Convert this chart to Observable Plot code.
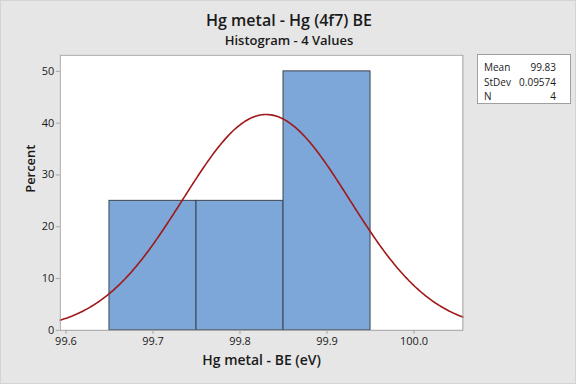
<!DOCTYPE html>
<html><head><meta charset="utf-8">
<script src="https://cdn.jsdelivr.net/npm/d3@7"></script>
<script src="https://cdn.jsdelivr.net/npm/@observablehq/plot@0.6"></script>
<style>
html,body{margin:0;padding:0;background:#e6e6e6;}
#wrap{position:relative;width:576px;height:384px;background:#e6e6e6;box-sizing:border-box;border:1px solid #d4d4d4;overflow:hidden;font-family:"Segoe UI","Open Sans",sans-serif;color:#1a1a1a;}
#wrap svg{position:absolute;left:-1px;top:-1px;}
.t{position:absolute;left:0;width:576px;text-align:center;white-space:nowrap;}
#title{top:8px;font-size:16px;font-weight:600;}
#sub{top:30px;font-size:13px;font-weight:600;}
#legend{position:absolute;left:476px;top:53px;width:94px;height:50px;background:#fff;border:1px solid #a0a0a0;box-sizing:border-box;font-size:10px;}
#legend .row{position:absolute;left:6px;right:14px;display:flex;justify-content:space-between;}
</style></head>
<body><div id="wrap">
<div class="t" id="title">Hg metal - Hg (4f7) BE</div>
<div class="t" id="sub">Histogram - 4 Values</div>
<div id="legend"></div>
</div>
<script>
const binStart = [99.65, 99.75, 99.85];
const binEnd = [99.75, 99.85, 99.95];
const percent = [25, 25, 50];
const xTicks = [99.6, 99.7, 99.8, 99.9, 100.0];
const yTicks = [0, 10, 20, 30, 40, 50];
const statLabels = ["Mean", "StDev", "N"];
const statValues = ["99.83", "0.09574", "4"];
const mean = 99.83, stdev = 0.09574, binWidth = 0.1;
const xDomain = [99.5935, 100.0561];
const yDomain = [0, 53.1];

const bars = binStart.map((s, i) => ({x1: s, x2: binEnd[i], y: percent[i]}));
const curve = d3.range(0, 301).map(i => {
  const x = xDomain[0] + (xDomain[1] - xDomain[0]) * i / 300;
  const z = (x - mean) / stdev;
  return {x, y: 100 * binWidth * Math.exp(-0.5 * z * z) / (stdev * Math.sqrt(2 * Math.PI))};
});

const chart = Plot.plot({
  width: 576, height: 384,
  marginLeft: 60, marginRight: 112, marginTop: 55, marginBottom: 53,
  style: {fontSize: "11px", fontFamily: "'Segoe UI','Open Sans',sans-serif", background: "transparent", color: "#1a1a1a"},
  x: {domain: xDomain, ticks: xTicks, tickFormat: d3.format(".1f"), label: null},
  y: {domain: yDomain, ticks: yTicks, label: null},
  marks: [
    Plot.rect([0], {x1: xDomain[0], x2: xDomain[1], y1: yDomain[0], y2: yDomain[1], fill: "white"}),
    Plot.rectY(bars, {x1: "x1", x2: "x2", y: "y", fill: "#7ca7d8", stroke: "#3c4450", strokeWidth: 1}),
    Plot.line(curve, {x: "x", y: "y", stroke: "#a01818", strokeWidth: 1.6}),
    Plot.frame({stroke: "#a6a6a6"}),
    Plot.axisX({ticks: xTicks, tickFormat: d3.format(".1f"), tickSize: 4, stroke: "#a6a6a6", fill: "#1a1a1a", tickPadding: 3, label: null}),
    Plot.axisY({ticks: yTicks, tickSize: 4, stroke: "#a6a6a6", fill: "#1a1a1a", tickPadding: 2, label: null}),
    Plot.text(["Hg metal - BE (eV)"], {frameAnchor: "bottom", dy: 35, fontSize: 14, fontWeight: 600, fill: "#1a1a1a", text: d => d}),
    Plot.text(["Percent"], {frameAnchor: "left", dx: -30, rotate: -90, fontSize: 13, fontWeight: 600, fill: "#1a1a1a", text: d => d})
  ]
});
document.getElementById("wrap").appendChild(chart);

const leg = document.getElementById("legend");
statLabels.forEach((l, i) => {
  const r = document.createElement("div");
  r.className = "row";
  r.style.top = (5 + i * 14.5) + "px";
  r.innerHTML = `<span>${l}</span><span>${statValues[i]}</span>`;
  leg.appendChild(r);
});
</script>
</body></html>
